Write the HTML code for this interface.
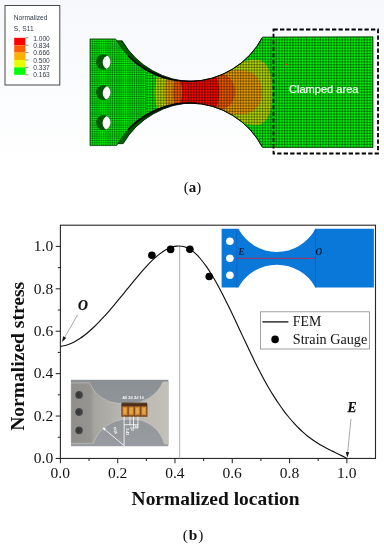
<!DOCTYPE html>
<html lang="en">
<head>
<meta charset="utf-8">
<title>Figure</title>
<style>
html,body{margin:0;padding:0;background:#fff;}
body{width:384px;height:550px;overflow:hidden;}
svg{display:block;}
.sans{font-family:"Liberation Sans","DejaVu Sans",sans-serif;}
.serif{font-family:"Liberation Serif","DejaVu Serif",serif;}
</style>
</head>
<body>
<svg width="384" height="550" viewBox="0 0 384 550">
<defs>
  <linearGradient id="bgA" x1="0" y1="0" x2="0" y2="1">
    <stop offset="0" stop-color="#f6f8fc"/>
    <stop offset="1" stop-color="#ffffff"/>
  </linearGradient>
  <linearGradient id="sideG" gradientUnits="userSpaceOnUse" x1="112" y1="0" x2="175" y2="0">
    <stop offset="0" stop-color="#006a00"/>
    <stop offset="0.45" stop-color="#003c00"/>
    <stop offset="0.8" stop-color="#000800"/>
    <stop offset="1" stop-color="#000000"/>
  </linearGradient>
  <clipPath id="spec">
    <path id="specPath" d="M90 38.9 L115.6 38.9 A82.9 82.9 0 0 0 188 81.3 L190.5 81.3 A82.9 82.9 0 0 0 262.6 37 L373 36.8 L373 147.5 L262.6 147.5 A82.9 82.9 0 0 0 190.5 103.1 L188 103.1 A82.9 82.9 0 0 0 116.6 145.6 L90 145.6 Z"/>
  </clipPath>
  <clipPath id="neckL"><rect x="128" y="50" width="68" height="85"/></clipPath>
  <clipPath id="neckR"><rect x="196" y="38" width="66" height="109"/></clipPath>
  <clipPath id="leftHalf"><rect x="85" y="30" width="106" height="125"/></clipPath>
  <clipPath id="holesFront">
    <ellipse cx="103.3" cy="62" rx="7.2" ry="7.7"/>
    <ellipse cx="103.3" cy="92.6" rx="7.2" ry="7.7"/>
    <ellipse cx="103.3" cy="122.6" rx="7.2" ry="7.7"/>
  </clipPath>
</defs>

<!-- ================= panel (a) ================= -->
<rect x="0" y="0" width="384" height="168" fill="url(#bgA)"/>

<!-- legend -->
<g class="sans">
  <rect x="5" y="5.5" width="54.8" height="79.5" fill="#fff" stroke="#484848" stroke-width="1"/>
  <text x="13.8" y="19.6" font-size="6.65" fill="#2f3a48">Normalized</text>
  <text x="13.8" y="30.6" font-size="6.65" fill="#2f3a48" letter-spacing="0.1">S, S11</text>
  <rect x="14.2" y="37.8" width="11.1" height="7.4" fill="#ff0000"/>
  <rect x="14.2" y="45.2" width="11.1" height="7.4" fill="#ff5d00"/>
  <rect x="14.2" y="52.6" width="11.1" height="7.4" fill="#ffb000"/>
  <rect x="14.2" y="60.0" width="11.1" height="7.4" fill="#e6ff00"/>
  <rect x="14.2" y="67.4" width="11.1" height="7.4" fill="#00ff00"/>
  <g stroke="#444" stroke-width="0.6">
    <line x1="25.3" y1="37.8" x2="28.5" y2="37.8"/>
    <line x1="25.3" y1="45.2" x2="28.5" y2="45.2"/>
    <line x1="25.3" y1="52.6" x2="28.5" y2="52.6"/>
    <line x1="25.3" y1="60.0" x2="28.5" y2="60.0"/>
    <line x1="25.3" y1="67.4" x2="28.5" y2="67.4"/>
    <line x1="25.3" y1="74.8" x2="28.5" y2="74.8"/>
  </g>
  <g font-size="6.65" fill="#2f3a48">
    <text x="33.2" y="40.6">1.000</text>
    <text x="33.2" y="47.9">0.834</text>
    <text x="33.2" y="55.2">0.666</text>
    <text x="33.2" y="62.5">0.500</text>
    <text x="33.2" y="69.8">0.337</text>
    <text x="33.2" y="77.1">0.163</text>
  </g>
</g>

<!-- specimen: back face (visible thickness) -->
<g clip-path="url(#leftHalf)">
  <use href="#specPath" transform="translate(6.6 3.41) scale(1 0.963)" fill="url(#sideG)" stroke="#001c00" stroke-width="0.9"/>
</g>

<!-- specimen: front face -->
<g clip-path="url(#spec)">
  <rect x="85" y="30" width="295" height="125" fill="#04f40c"/>
  <!-- yellow -->
  <path d="M154.6 92.2 C154.6 84 156.5 76 159.5 70 L215 70 C228 68 244 59.5 256 59.5 C267 59.5 272.4 72 272.4 92.2 C272.4 112.5 267 125.2 256 125.2 C244 125.2 228 116 215 114 L159.5 114 C156.5 108 154.6 100 154.6 92.2 Z" fill="#b8de00"/>
  <!-- light orange -->
  <path d="M164.4 92.2 C164.4 85 166 78 169 72 L215 72 C226 70.5 236 70 244 70.6 C255 71.5 262.2 80 262.2 92.2 C262.2 104 255 113.2 244 114 C236 114.5 226 114 215 112 L169 112 C166 106 164.4 99 164.4 92.2 Z" fill="#eea000"/>
  <!-- dark orange -->
  <path d="M172.8 92.2 C172.8 86 174 80 176 75 L214 74 C225 71.5 235 79 235 91.8 C235 104 225 111.5 214 110 L176 109 C174 104 172.8 98 172.8 92.2 Z" fill="#f45e00"/>
  <!-- red -->
  <path d="M177.6 78 C183.8 84 183.8 100 177.6 106 L214 110 C221.2 104 221.2 80 214 74 Z" fill="#f80c00"/>
  <!-- mesh -->
  <g stroke="#000" fill="none"><path d="M372.60 30V155M369.85 30V155M367.10 30V155M364.35 30V155M361.60 30V155M358.85 30V155M356.10 30V155M353.35 30V155M350.60 30V155M347.85 30V155M345.10 30V155M342.35 30V155M339.60 30V155M336.85 30V155M334.10 30V155M331.35 30V155M328.60 30V155M325.85 30V155M323.10 30V155M320.35 30V155M317.60 30V155M314.85 30V155M312.10 30V155M309.35 30V155M306.60 30V155M303.85 30V155M301.10 30V155M298.35 30V155M295.60 30V155M292.85 30V155M290.10 30V155M287.35 30V155M284.60 30V155M281.85 30V155M279.10 30V155M276.35 30V155M273.60 30V155M270.85 30V155M268.10 30V155M265.35 30V155M262.60 30V155M259.85 30V155M257.10 30V155M254.35 30V155M251.60 30V155M248.85 30V155M246.10 30V155M243.35 30V155M240.60 30V155M237.85 30V155M235.10 30V155M232.35 30V155M229.60 30V155M226.85 30V155M224.10 30V155M221.35 30V155M218.60 30V155M215.85 30V155M213.10 30V155M210.35 30V155M207.60 30V155M204.85 30V155M202.10 30V155M199.35 30V155M196.60 30V155M193.85 30V155M191.10 30V155M188.35 30V155M185.60 30V155M182.85 30V155M180.10 30V155M177.35 30V155M174.60 30V155M171.85 30V155M169.10 30V155M166.35 30V155M163.60 30V155M160.85 30V155M158.10 30V155M155.35 30V155M152.60 30V155M149.85 30V155M147.10 30V155" stroke-opacity="0.34" stroke-width="1.2"/><path d="M146.00 37.10H380M146.00 39.85H380M146.00 42.60H380M146.00 45.35H380M146.00 48.10H380M146.00 50.85H380M146.00 53.60H380M146.00 56.35H380M146.00 59.10H380M146.00 61.85H380M146.00 64.60H380M146.00 67.35H380M146.00 70.10H380M146.00 72.85H380M146.00 75.60H380M146.00 78.35H380M146.00 81.10H380M146.00 83.85H380M146.00 86.60H380M146.00 89.35H380M146.00 92.10H380M146.00 94.85H380M146.00 97.60H380M146.00 100.35H380M146.00 103.10H380M146.00 105.85H380M146.00 108.60H380M146.00 111.35H380M146.00 114.10H380M146.00 116.85H380M146.00 119.60H380M146.00 122.35H380M146.00 125.10H380M146.00 127.85H380M146.00 130.60H380M146.00 133.35H380M146.00 136.10H380M146.00 138.85H380M146.00 141.60H380M146.00 144.35H380M146.00 147.10H380M146.00 149.85H380" stroke-opacity="0.34" stroke-width="1.2"/><path d="M90.40 30V155M92.60 30V155M94.80 30V155M97.00 30V155M99.20 30V155M101.40 30V155M103.60 30V155M105.80 30V155M108.00 30V155M110.20 30V155M112.40 30V155M114.60 30V155M116.80 30V155M119.00 30V155M121.20 30V155M123.40 30V155M125.60 30V155M127.80 30V155M130.00 30V155M132.20 30V155M134.40 30V155M136.60 30V155M138.80 30V155M141.00 30V155M143.20 30V155M145.40 30V155" stroke-opacity="0.31" stroke-width="1.05"/><path d="M85 39.30H146.00M85 41.50H146.00M85 43.70H146.00M85 45.90H146.00M85 48.10H146.00M85 50.30H146.00M85 52.50H146.00M85 54.70H146.00M85 56.90H146.00M85 59.10H146.00M85 61.30H146.00M85 63.50H146.00M85 65.70H146.00M85 67.90H146.00M85 70.10H146.00M85 72.30H146.00M85 74.50H146.00M85 76.70H146.00M85 78.90H146.00M85 81.10H146.00M85 83.30H146.00M85 85.50H146.00M85 87.70H146.00M85 89.90H146.00M85 92.10H146.00M85 94.30H146.00M85 96.50H146.00M85 98.70H146.00M85 100.90H146.00M85 103.10H146.00M85 105.30H146.00M85 107.50H146.00M85 109.70H146.00M85 111.90H146.00M85 114.10H146.00M85 116.30H146.00M85 118.50H146.00M85 120.70H146.00M85 122.90H146.00M85 125.10H146.00M85 127.30H146.00M85 129.50H146.00M85 131.70H146.00M85 133.90H146.00M85 136.10H146.00M85 138.30H146.00M85 140.50H146.00M85 142.70H146.00M85 144.90H146.00" stroke-opacity="0.31" stroke-width="1.05"/></g>
</g>
<use href="#specPath" fill="none" stroke="#003400" stroke-width="0.7"/>

<g clip-path="url(#neckL)"><use href="#specPath" fill="none" stroke="#000" stroke-width="1.5"/></g>
<g clip-path="url(#neckR)"><use href="#specPath" fill="none" stroke="#000" stroke-width="0.9"/></g>
<!-- holes -->
<g>
  <ellipse cx="103.3" cy="62" rx="7.2" ry="7.7" fill="#005800"/>
  <ellipse cx="103.3" cy="92.6" rx="7.2" ry="7.7" fill="#005800"/>
  <ellipse cx="103.3" cy="122.6" rx="7.2" ry="7.7" fill="#005800"/>
  <g clip-path="url(#holesFront)" fill="#ffffff">
    <ellipse cx="109.9" cy="62.6" rx="7.2" ry="7.4"/>
    <ellipse cx="109.9" cy="93" rx="7.2" ry="7.4"/>
    <ellipse cx="109.7" cy="122.9" rx="7.2" ry="7.4"/>
  </g>
</g>

<!-- clamped area -->
<rect x="273.5" y="29.5" width="104.5" height="124" fill="none" stroke="#000" stroke-width="1.8" stroke-dasharray="4.3 2.2"/>
<circle cx="286.5" cy="64.3" r="0.9" fill="#ff3020"/>
<text class="sans" x="289" y="92.6" font-size="10.6" fill="#ffffff" stroke="#ffffff" stroke-width="0.2" textLength="69.5" lengthAdjust="spacingAndGlyphs">Clamped area</text>

<!-- (a) -->
<text class="serif" x="192.6" y="191.8" font-size="15" text-anchor="middle" fill="#111">(<tspan font-weight="bold">a</tspan>)</text>

<!-- ================= panel (b) ================= -->
<g class="serif">
  <!-- frame -->
  <rect x="60.4" y="225.2" width="315.1" height="233.25" fill="#fff" stroke="#2a2626" stroke-width="1.1"/>
  <g stroke="#2a2626" stroke-width="1.05"><line x1="60.40" y1="458.45" x2="60.40" y2="463.15"/><line x1="60.40" y1="458.45" x2="55.70" y2="458.45"/><line x1="89.05" y1="458.45" x2="89.05" y2="461.05"/><line x1="60.40" y1="437.25" x2="57.80" y2="437.25"/><line x1="117.69" y1="458.45" x2="117.69" y2="463.15"/><line x1="60.40" y1="416.04" x2="55.70" y2="416.04"/><line x1="146.34" y1="458.45" x2="146.34" y2="461.05"/><line x1="60.40" y1="394.84" x2="57.80" y2="394.84"/><line x1="174.98" y1="458.45" x2="174.98" y2="463.15"/><line x1="60.40" y1="373.63" x2="55.70" y2="373.63"/><line x1="203.63" y1="458.45" x2="203.63" y2="461.05"/><line x1="60.40" y1="352.43" x2="57.80" y2="352.43"/><line x1="232.27" y1="458.45" x2="232.27" y2="463.15"/><line x1="60.40" y1="331.22" x2="55.70" y2="331.22"/><line x1="260.92" y1="458.45" x2="260.92" y2="461.05"/><line x1="60.40" y1="310.02" x2="57.80" y2="310.02"/><line x1="289.56" y1="458.45" x2="289.56" y2="463.15"/><line x1="60.40" y1="288.81" x2="55.70" y2="288.81"/><line x1="318.21" y1="458.45" x2="318.21" y2="461.05"/><line x1="60.40" y1="267.61" x2="57.80" y2="267.61"/><line x1="346.85" y1="458.45" x2="346.85" y2="463.15"/><line x1="60.40" y1="246.40" x2="55.70" y2="246.40"/></g>
  <g font-size="15.5" fill="#111"><text x="60.30" y="478.1" text-anchor="middle">0.0</text><text x="117.59" y="478.1" text-anchor="middle">0.2</text><text x="174.88" y="478.1" text-anchor="middle">0.4</text><text x="232.17" y="478.1" text-anchor="middle">0.6</text><text x="289.46" y="478.1" text-anchor="middle">0.8</text><text x="346.75" y="478.1" text-anchor="middle">1.0</text><text x="53.2" y="463.20" text-anchor="end">0.0</text><text x="53.2" y="420.79" text-anchor="end">0.2</text><text x="53.2" y="378.38" text-anchor="end">0.4</text><text x="53.2" y="335.97" text-anchor="end">0.6</text><text x="53.2" y="293.56" text-anchor="end">0.8</text><text x="53.2" y="251.15" text-anchor="end">1.0</text></g>

  <!-- vertical guide -->
  <line x1="179.7" y1="246.3" x2="179.7" y2="458.5" stroke="#9a9a9a" stroke-width="0.8"/>

  <!-- FEM curve -->
  <path d="M60.50 346.40 C61.31 346.25 63.74 345.91 65.35 345.48 C66.97 345.06 68.59 344.49 70.21 343.83 C71.83 343.16 73.44 342.38 75.06 341.49 C76.68 340.61 78.30 339.62 79.92 338.54 C81.54 337.46 83.15 336.28 84.77 335.02 C86.39 333.76 88.01 332.41 89.63 331.00 C91.24 329.58 92.86 328.08 94.48 326.53 C96.10 324.97 97.72 323.34 99.33 321.67 C100.95 319.99 102.57 318.25 104.19 316.48 C105.81 314.70 107.42 312.87 109.04 311.01 C110.66 309.15 112.28 307.25 113.90 305.33 C115.51 303.41 117.13 301.46 118.75 299.49 C120.37 297.53 121.99 295.54 123.61 293.56 C125.22 291.57 126.84 289.57 128.46 287.58 C130.08 285.59 131.70 283.59 133.31 281.62 C134.93 279.65 136.55 277.67 138.17 275.76 C139.79 273.84 141.40 271.94 143.02 270.11 C144.64 268.29 146.26 266.50 147.88 264.80 C149.49 263.10 151.11 261.46 152.73 259.92 C154.35 258.39 155.97 256.93 157.58 255.60 C159.20 254.28 160.82 253.04 162.44 251.95 C164.06 250.86 165.68 249.89 167.29 249.08 C168.91 248.27 170.53 247.59 172.15 247.10 C173.77 246.61 175.38 246.26 177.00 246.12 C178.62 245.98 180.24 246.01 181.86 246.27 C183.47 246.52 185.09 246.96 186.71 247.64 C188.33 248.32 189.95 249.23 191.56 250.36 C193.18 251.49 194.80 252.87 196.42 254.44 C198.04 256.00 199.65 257.80 201.27 259.75 C202.89 261.71 204.51 263.87 206.13 266.17 C207.75 268.47 209.36 270.96 210.98 273.56 C212.60 276.16 214.22 278.93 215.84 281.78 C217.45 284.64 219.07 287.63 220.69 290.70 C222.31 293.77 223.93 296.95 225.54 300.19 C227.16 303.42 228.78 306.75 230.40 310.10 C232.02 313.45 233.63 316.88 235.25 320.31 C236.87 323.74 238.49 327.22 240.11 330.68 C241.72 334.14 243.34 337.62 244.96 341.07 C246.58 344.52 248.20 347.97 249.82 351.35 C251.43 354.74 253.05 358.11 254.67 361.39 C256.29 364.68 257.91 367.92 259.52 371.05 C261.14 374.19 262.76 377.25 264.38 380.20 C266.00 383.15 267.61 386.00 269.23 388.74 C270.85 391.49 272.47 394.13 274.09 396.68 C275.70 399.23 277.32 401.67 278.94 404.03 C280.56 406.38 282.18 408.63 283.79 410.80 C285.41 412.96 287.03 415.02 288.65 417.00 C290.27 418.98 291.89 420.86 293.50 422.66 C295.12 424.45 296.74 426.16 298.36 427.78 C299.98 429.40 301.59 430.93 303.21 432.37 C304.83 433.82 306.45 435.18 308.07 436.46 C309.68 437.74 311.30 438.93 312.92 440.06 C314.54 441.19 316.16 442.23 317.77 443.24 C319.39 444.24 321.01 445.18 322.63 446.08 C324.25 446.99 325.86 447.84 327.48 448.68 C329.10 449.52 330.72 450.32 332.34 451.13 C333.96 451.93 335.57 452.71 337.19 453.50 C338.81 454.30 340.43 455.08 342.05 455.89 C343.66 456.71 346.09 457.98 346.90 458.40" fill="none" stroke="#111" stroke-width="1.15"/>

  <!-- strain gauge points -->
  <g fill="#000">
    <circle cx="151.9" cy="255.2" r="3.8"/>
    <circle cx="170.6" cy="249.4" r="3.8"/>
    <circle cx="189.9" cy="249.2" r="3.8"/>
    <circle cx="209.2" cy="276.5" r="3.8"/>
  </g>

  <!-- O / E annotations -->
  <text x="78.1" y="309.9" font-size="13.6" font-weight="bold" font-style="italic" fill="#111" stroke="#111" stroke-width="0.25">O</text>
  <line x1="77.5" y1="315" x2="63.3" y2="339.7" stroke="#555" stroke-width="0.5"/>
  <path d="M62 342 L63.2 336.3 L66.2 338 Z" fill="#111"/>
  <text x="347.4" y="411.9" font-size="13.6" font-weight="bold" font-style="italic" fill="#111" stroke="#111" stroke-width="0.25">E</text>
  <line x1="351" y1="418.8" x2="347.5" y2="454" stroke="#555" stroke-width="0.5"/>
  <path d="M347.2 457.5 L345.8 452 L349.3 452.3 Z" fill="#111"/>

  <!-- legend -->
  <rect x="260.4" y="311.8" width="109" height="37.2" fill="#fff" stroke="#8a8a8a" stroke-width="0.8"/>
  <line x1="262.4" y1="321.9" x2="288.4" y2="321.9" stroke="#111" stroke-width="1.3"/>
  <circle cx="275.1" cy="339.4" r="3.8" fill="#000"/>
  <text x="292.8" y="326.4" font-size="13.8" fill="#111">FEM</text>
  <text x="292.8" y="344.1" font-size="14.1" fill="#111" textLength="74.4" lengthAdjust="spacingAndGlyphs">Strain Gauge</text>

  <!-- axis titles -->
  <text x="215.6" y="505.4" font-size="19.5" font-weight="bold" text-anchor="middle" fill="#111" textLength="168" lengthAdjust="spacingAndGlyphs">Normalized location</text>
  <text transform="translate(24.2 356.3) rotate(-90)" font-size="19.5" font-weight="bold" text-anchor="middle" fill="#111" textLength="149" lengthAdjust="spacingAndGlyphs">Normalized stress</text>

  <!-- (b) -->
  <text x="193.5" y="540.1" font-size="15.4" text-anchor="middle" fill="#111" letter-spacing="0.9">(<tspan font-weight="bold">b</tspan>)</text>
</g>

<!-- blue inset specimen -->
<g>
  <path d="M221.6 228.8 L238.4 228.8 A43.7 43.7 0 0 0 276.9 251.9 A43.7 43.7 0 0 0 315.4 228.8 L373.9 228.8 L373.9 287.4 L315.4 287.4 A43.7 43.7 0 0 0 276.9 264.8 A43.7 43.7 0 0 0 238.4 287.4 L221.6 287.4 Z" fill="#0a78d8"/>
  <line x1="236.8" y1="229" x2="236.8" y2="287.5" stroke="#0f5cc0" stroke-width="0.7"/>
  <line x1="315.4" y1="229" x2="315.4" y2="287.5" stroke="#0f5cc0" stroke-width="0.7"/>
  <circle cx="229.9" cy="241.2" r="3.8" fill="#fff"/>
  <circle cx="229.9" cy="258.3" r="3.8" fill="#fff"/>
  <circle cx="229.9" cy="275.2" r="3.8" fill="#fff"/>
  <line x1="236.8" y1="258.3" x2="315.4" y2="258.3" stroke="#c0284a" stroke-width="0.9"/>
  <text class="serif" x="238.2" y="254.9" font-size="9.4" font-weight="bold" font-style="italic" fill="#0a1a3a">E</text>
  <text class="serif" x="315.4" y="255.1" font-size="9.4" font-weight="bold" font-style="italic" fill="#0a1a3a">O</text>
</g>

<!-- photo inset -->
<g id="photo">
  <defs>
    <clipPath id="phClip"><rect x="70.8" y="379.6" width="97.8" height="66.9"/></clipPath>
    <linearGradient id="metal" gradientUnits="userSpaceOnUse" x1="70.8" y1="0" x2="168.6" y2="0">
      <stop offset="0" stop-color="#8f8e8a"/>
      <stop offset="0.2" stop-color="#969490"/>
      <stop offset="0.24" stop-color="#a6a49f"/>
      <stop offset="0.5" stop-color="#b7b5af"/>
      <stop offset="1" stop-color="#c3c0b9"/>
    </linearGradient>
    <linearGradient id="phbg" x1="0" y1="0" x2="0" y2="1">
      <stop offset="0" stop-color="#8b9095"/>
      <stop offset="1" stop-color="#989ca1"/>
    </linearGradient>
    <radialGradient id="holeG" cx="0.4" cy="0.5" r="0.6">
      <stop offset="0" stop-color="#333333"/>
      <stop offset="0.75" stop-color="#444444"/>
      <stop offset="1" stop-color="#6a6a68"/>
    </radialGradient>
  </defs>
  <g clip-path="url(#phClip)">
    <rect x="70.8" y="379.6" width="97.8" height="66.9" fill="url(#phbg)"/>
    <path d="M70.8 383 L89.6 382.7 A33 33 0 0 0 120.3 403.5 L130 403.5 A36 36 0 0 0 163 382 L169 382 L169 444 L164.3 443.8 A33 33 0 0 0 132.3 419.2 L127.4 419.2 A36 36 0 0 0 93.4 443.3 L70.8 443.3 Z" fill="url(#metal)" stroke="#d2d0ca" stroke-width="0.5"/>
    <circle cx="79.2" cy="394.9" r="3.9" fill="url(#holeG)"/>
    <circle cx="79.2" cy="412" r="3.9" fill="url(#holeG)"/>
    <circle cx="79.2" cy="430.3" r="3.9" fill="url(#holeG)"/>
    <!-- strain gauge -->
    <rect x="121.3" y="403.6" width="26.2" height="13.2" fill="#7c4a22"/>
    <rect x="121.8" y="402.6" width="25.2" height="3.6" fill="#4a2c16" opacity="0.85"/>
    <rect x="122.6" y="406.6" width="4.8" height="8.6" fill="#d68a30"/>
    <rect x="128.8" y="406.6" width="4.8" height="8.6" fill="#d68a30"/>
    <rect x="135" y="406.6" width="4.8" height="8.6" fill="#d68a30"/>
    <rect x="141.4" y="406.6" width="4.8" height="8.6" fill="#d68a30"/>
    <rect x="123.6" y="408" width="2.8" height="5.6" fill="#e8a648"/>
    <rect x="129.8" y="408" width="2.8" height="5.6" fill="#e8a648"/>
    <rect x="136" y="408" width="2.8" height="5.6" fill="#e8a648"/>
    <rect x="142.4" y="408" width="2.8" height="5.6" fill="#e8a648"/>
    <!-- dimension lines -->
    <g stroke="#fff" stroke-width="0.8" fill="none">
      <line x1="103" y1="428" x2="124.1" y2="445.6"/>
      <line x1="124.1" y1="416.6" x2="124.1" y2="446"/>
      <line x1="130" y1="416.6" x2="130" y2="425.2"/>
      <line x1="133.5" y1="416.6" x2="133.5" y2="428"/>
      <line x1="137.9" y1="416.6" x2="137.9" y2="428"/>
      <line x1="124.1" y1="424.7" x2="138.2" y2="424.7"/>
      <line x1="130" y1="428" x2="138.2" y2="428"/>
    </g>
    <path d="M102.4 427.5 L106 428.6 L104.2 430.8 Z" fill="#fff"/>
    <g class="sans" fill="#fff" font-size="3.6" font-weight="bold">
      <text x="122.6" y="399.2" textLength="21.5" lengthAdjust="spacingAndGlyphs">4# 3# 2# 1#</text>
      <text transform="translate(126.4 428.2) rotate(90)">2.42</text>
      <text transform="translate(131 428.8) rotate(90)">2</text>
      <text transform="translate(134.6 425.2) rotate(90)">3</text>
      <text transform="translate(113.6 427.6) rotate(80)">R15</text>
    </g>
  </g>
</g>
</svg>
</body>
</html>
